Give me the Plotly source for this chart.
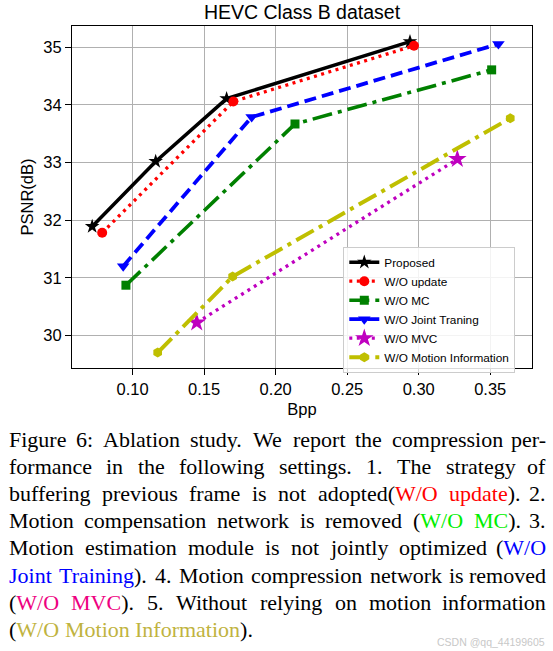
import plotly.graph_objects as go

# values
series_names = ["Proposed", "W/O update", "W/O MC", "W/O Joint Traning",
                "W/O MVC", "W/O Motion Information"]

bpp_proposed = [0.0717, 0.1161, 0.1657, 0.2939]
psnr_proposed = [31.89, 33.02, 34.11, 35.10]

bpp_wo_update = [0.0787, 0.1704, 0.2967]
psnr_wo_update = [31.78, 34.06, 35.03]

bpp_wo_mc = [0.0953, 0.2135, 0.3510]
psnr_wo_mc = [30.87, 33.67, 34.61]

bpp_wo_joint = [0.0934, 0.1832, 0.3557]
psnr_wo_joint = [31.20, 33.79, 35.06]

bpp_wo_mvc = [0.1448, 0.3270]
psnr_wo_mvc = [30.22, 33.06]

bpp_wo_motion = [0.1175, 0.1699, 0.3640]
psnr_wo_motion = [29.70, 31.02, 33.77]

x_ticks = [0.10, 0.15, 0.20, 0.25, 0.30, 0.35]
y_ticks = [30, 31, 32, 33, 34, 35]

RED = "#ff0000"
GREEN = "#00ee00"
BLUE = "#0000ff"
PINK = "#ee0080"
OLIVE = "#bfb340"

caption_lines = [
    [("Figure 6: Ablation study.  We report the compression per-", None)],
    [("formance in the following settings.  1.  The strategy of", None)],
    [("buffering previous frame is not adopted(", None), ("W/O update", RED), (").  2.", None)],
    [("Motion compensation network is removed (", None), ("W/O MC", GREEN), ("). 3.", None)],
    [("Motion estimation module is not jointly optimized (", None), ("W/O", BLUE)],
    [("Joint Training", BLUE), ("). 4. Motion compression network is removed", None)],
    [("(", None), ("W/O MVC", PINK), ("). 5.  Without relying on motion information", None)],
    [("(", None), ("W/O Motion Information", OLIVE), (").", None)],
]

# page geometry (px)
W, H = 553, 651
PL, PR, PT, PB = 72, 532, 26, 368.5

SANS = "Liberation Sans, Arial, sans-serif"
SERIF = "Liberation Serif, Times New Roman, serif"

# Times widths (1/1000 em)
TIMES = {" ": 250, "(": 333, ")": 333, ",": 250, "-": 333, ".": 250, "/": 278, ":": 278,
         "a": 444, "b": 500, "c": 444, "d": 500, "e": 444, "f": 333, "g": 500, "h": 500,
         "i": 278, "j": 278, "k": 500, "l": 278, "m": 778, "n": 500, "o": 500, "p": 500,
         "q": 500, "r": 333, "s": 389, "t": 278, "u": 500, "v": 500, "w": 722, "x": 500,
         "y": 500, "z": 444, "A": 722, "B": 667, "C": 667, "D": 722, "E": 611, "F": 556,
         "G": 722, "H": 722, "I": 333, "J": 389, "K": 722, "L": 611, "M": 889, "N": 722,
         "O": 722, "P": 556, "Q": 722, "R": 667, "S": 556, "T": 611, "U": 722, "V": 722,
         "W": 944, "X": 722, "Y": 722, "Z": 611}


def px_x(px):
    return (px - PL) / (PR - PL)


def px_y(py):
    return (PB - py) / (PB - PT)


def split_words(runs):
    words, cur = [], []
    for text, color in runs:
        for ch in text:
            if ch == " ":
                if cur:
                    words.append(cur)
                    cur = []
            else:
                cur.append((ch, color))
    if cur:
        words.append(cur)
    return words


def word_html(word):
    out, last, buf = "", "x", ""
    for ch, color in word + [("", "end")]:
        if color != last and buf:
            out += buf if last is None else f'<span style="color:{last}">{buf}</span>'
            buf = ""
        last = color
        buf += ch
    return out


def word_width(word, size):
    return sum(TIMES.get(ch, 500) for ch, _ in word) * size / 1000


fig = go.Figure()

styles = [
    (bpp_proposed, psnr_proposed, "black", "solid", 3.5, "star", 11),
    (bpp_wo_update, psnr_wo_update, RED, "3px,4.5px", 3.3, "circle", 10),
    (bpp_wo_mc, psnr_wo_mc, "#008000", "20px,6px,4px,6px", 3.6, "square", 9),
    (bpp_wo_joint, psnr_wo_joint, BLUE, "12px,6px", 3.8, "triangle-down", 11),
    (bpp_wo_mvc, psnr_wo_mvc, "#bf00bf", "3px,4.5px", 3.3, "star", 14),
    (bpp_wo_motion, psnr_wo_motion, "#bfbf00", "20px,6px,4px,6px", 4, "hexagon", 10),
]

for name, (xs, ys, color, dash, lw, sym, ms) in zip(series_names, styles):
    fig.add_trace(go.Scatter(
        x=xs, y=ys, name=name, mode="lines+markers",
        line=dict(color=color, dash=dash, width=lw),
        marker=dict(symbol=sym, size=ms, color=color, line=dict(width=0)),
    ))

annotations = []
cap_size = 22
left, right = 8, 547
base0, step = 446.5, 27.2
for i, runs in enumerate(caption_lines):
    words = split_words(runs)
    widths = [word_width(w, cap_size) for w in words]
    last_line = i == len(caption_lines) - 1
    if last_line:
        gap = 0.25 * cap_size
    else:
        gap = (right - left - sum(widths)) / (len(words) - 1)
    cy = base0 + i * step - 0.3 * cap_size
    x = left
    for j, w in enumerate(words):
        at_end = (j == len(words) - 1) and not last_line
        annotations.append(dict(
            text=word_html(w), xref="paper", yref="paper",
            x=px_x(right if at_end else x), y=px_y(cy),
            xanchor="right" if at_end else "left", yanchor="middle",
            showarrow=False, borderpad=0,
            font=dict(family=SERIF, size=cap_size, color="black"),
        ))
        x += widths[j] + gap

annotations.append(dict(
    text="CSDN @qq_44199605", xref="paper", yref="paper",
    x=px_x(547), y=px_y(643), xanchor="right", yanchor="middle",
    showarrow=False, font=dict(family=SANS, size=10.5, color="#c8c8c8"),
))

axis_common = dict(
    showline=True, linecolor="black", linewidth=1.2, mirror=True,
    showgrid=True, gridcolor="#b0b0b0", gridwidth=1, zeroline=False,
    ticks="outside", ticklen=6, tickwidth=1, tickcolor="black",
    tickfont=dict(family=SANS, size=16.5, color="black"),
)

fig.update_layout(
    width=W, height=H,
    margin=dict(l=PL, r=W - PR, t=PT, b=H - PB),
    paper_bgcolor="white", plot_bgcolor="white",
    title=dict(text="HEVC Class B dataset", x=0.5, xref="paper", y=1 - 11.7 / H,
               yref="container", xanchor="center", yanchor="middle",
               font=dict(family=SANS, size=19.5, color="black")),
    xaxis=dict(range=[0.0576, 0.3792], tickvals=x_ticks, tickformat=".2f",
               title=dict(text="Bpp", standoff=6, font=dict(family=SANS, size=16.5, color="black")),
               **axis_common),
    yaxis=dict(range=[29.432, 35.372], tickvals=y_ticks,
               title=dict(text="PSNR(dB)", standoff=5, font=dict(family=SANS, size=16.5, color="black")),
               **axis_common),
    legend=dict(x=px_x(343.3), y=px_y(247), xanchor="left", yanchor="top",
                bgcolor="rgba(255,255,255,0.85)", bordercolor="#cccccc", borderwidth=1,
                font=dict(family=SANS, size=11.8, color="black"), itemwidth=30),
    annotations=annotations,
    showlegend=True,
)

# drop the page's default body margin so the figure sits at the window's corner
fig.write_html(
    "out.html",
    config={"displayModeBar": False},
    post_script="document.body.style.margin='0';document.body.style.overflow='hidden';",
)
